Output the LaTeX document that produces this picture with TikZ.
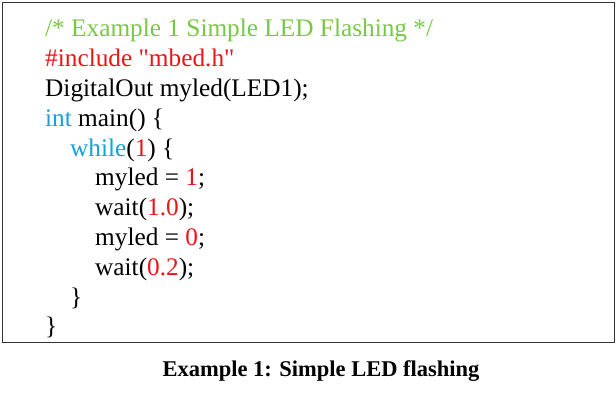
\documentclass[tikz,border=0pt]{standalone}
\usepackage{fontspec}
\setmainfont{Liberation Serif}
\definecolor{cgreen}{RGB}{120,200,70}
\definecolor{cred}{RGB}{235,20,20}
\definecolor{cblue}{RGB}{20,160,220}
\begin{document}
\begin{tikzpicture}[x=1pt,y=1pt,
  code/.style={anchor=base west,inner sep=0pt,font=\fontsize{25.3}{28}\selectfont}]
\useasboundingbox (0,0) rectangle (616,406);
\draw[line width=1pt,draw=black!80] (2,403) rectangle (614,63);
\foreach \i/\x/\t in {
 0/45/{\textcolor{cgreen}{/* Example 1 Simple LED Flashing */}},
 1/45/{\addfontfeatures{Ligatures=TeXOff}\textcolor{cred}{\#include "mbed.h"}},
 2/45/{DigitalOut myled(LED1);},
 3/45/{\textcolor{cblue}{int}\ main() \{},
 4/70/{\textcolor{cblue}{while}(\textcolor{cred}{1}) \{},
 5/95/{myled = \textcolor{cred}{1};},
 6/95/{wait(\textcolor{cred}{1.0});},
 7/95/{myled = \textcolor{cred}{0};},
 8/95/{wait(\textcolor{cred}{0.2});},
 9/70/{\}},
 10/45/{\}}}
 \node[code] (l\i) at (\x,{369-29.8*\i}) {\t};
\node[font=\bfseries\fontsize{22.5}{25}\selectfont,anchor=base] (cap) at (321,29) {Example 1: Simple LED flashing};
\end{tikzpicture}
\end{document}
